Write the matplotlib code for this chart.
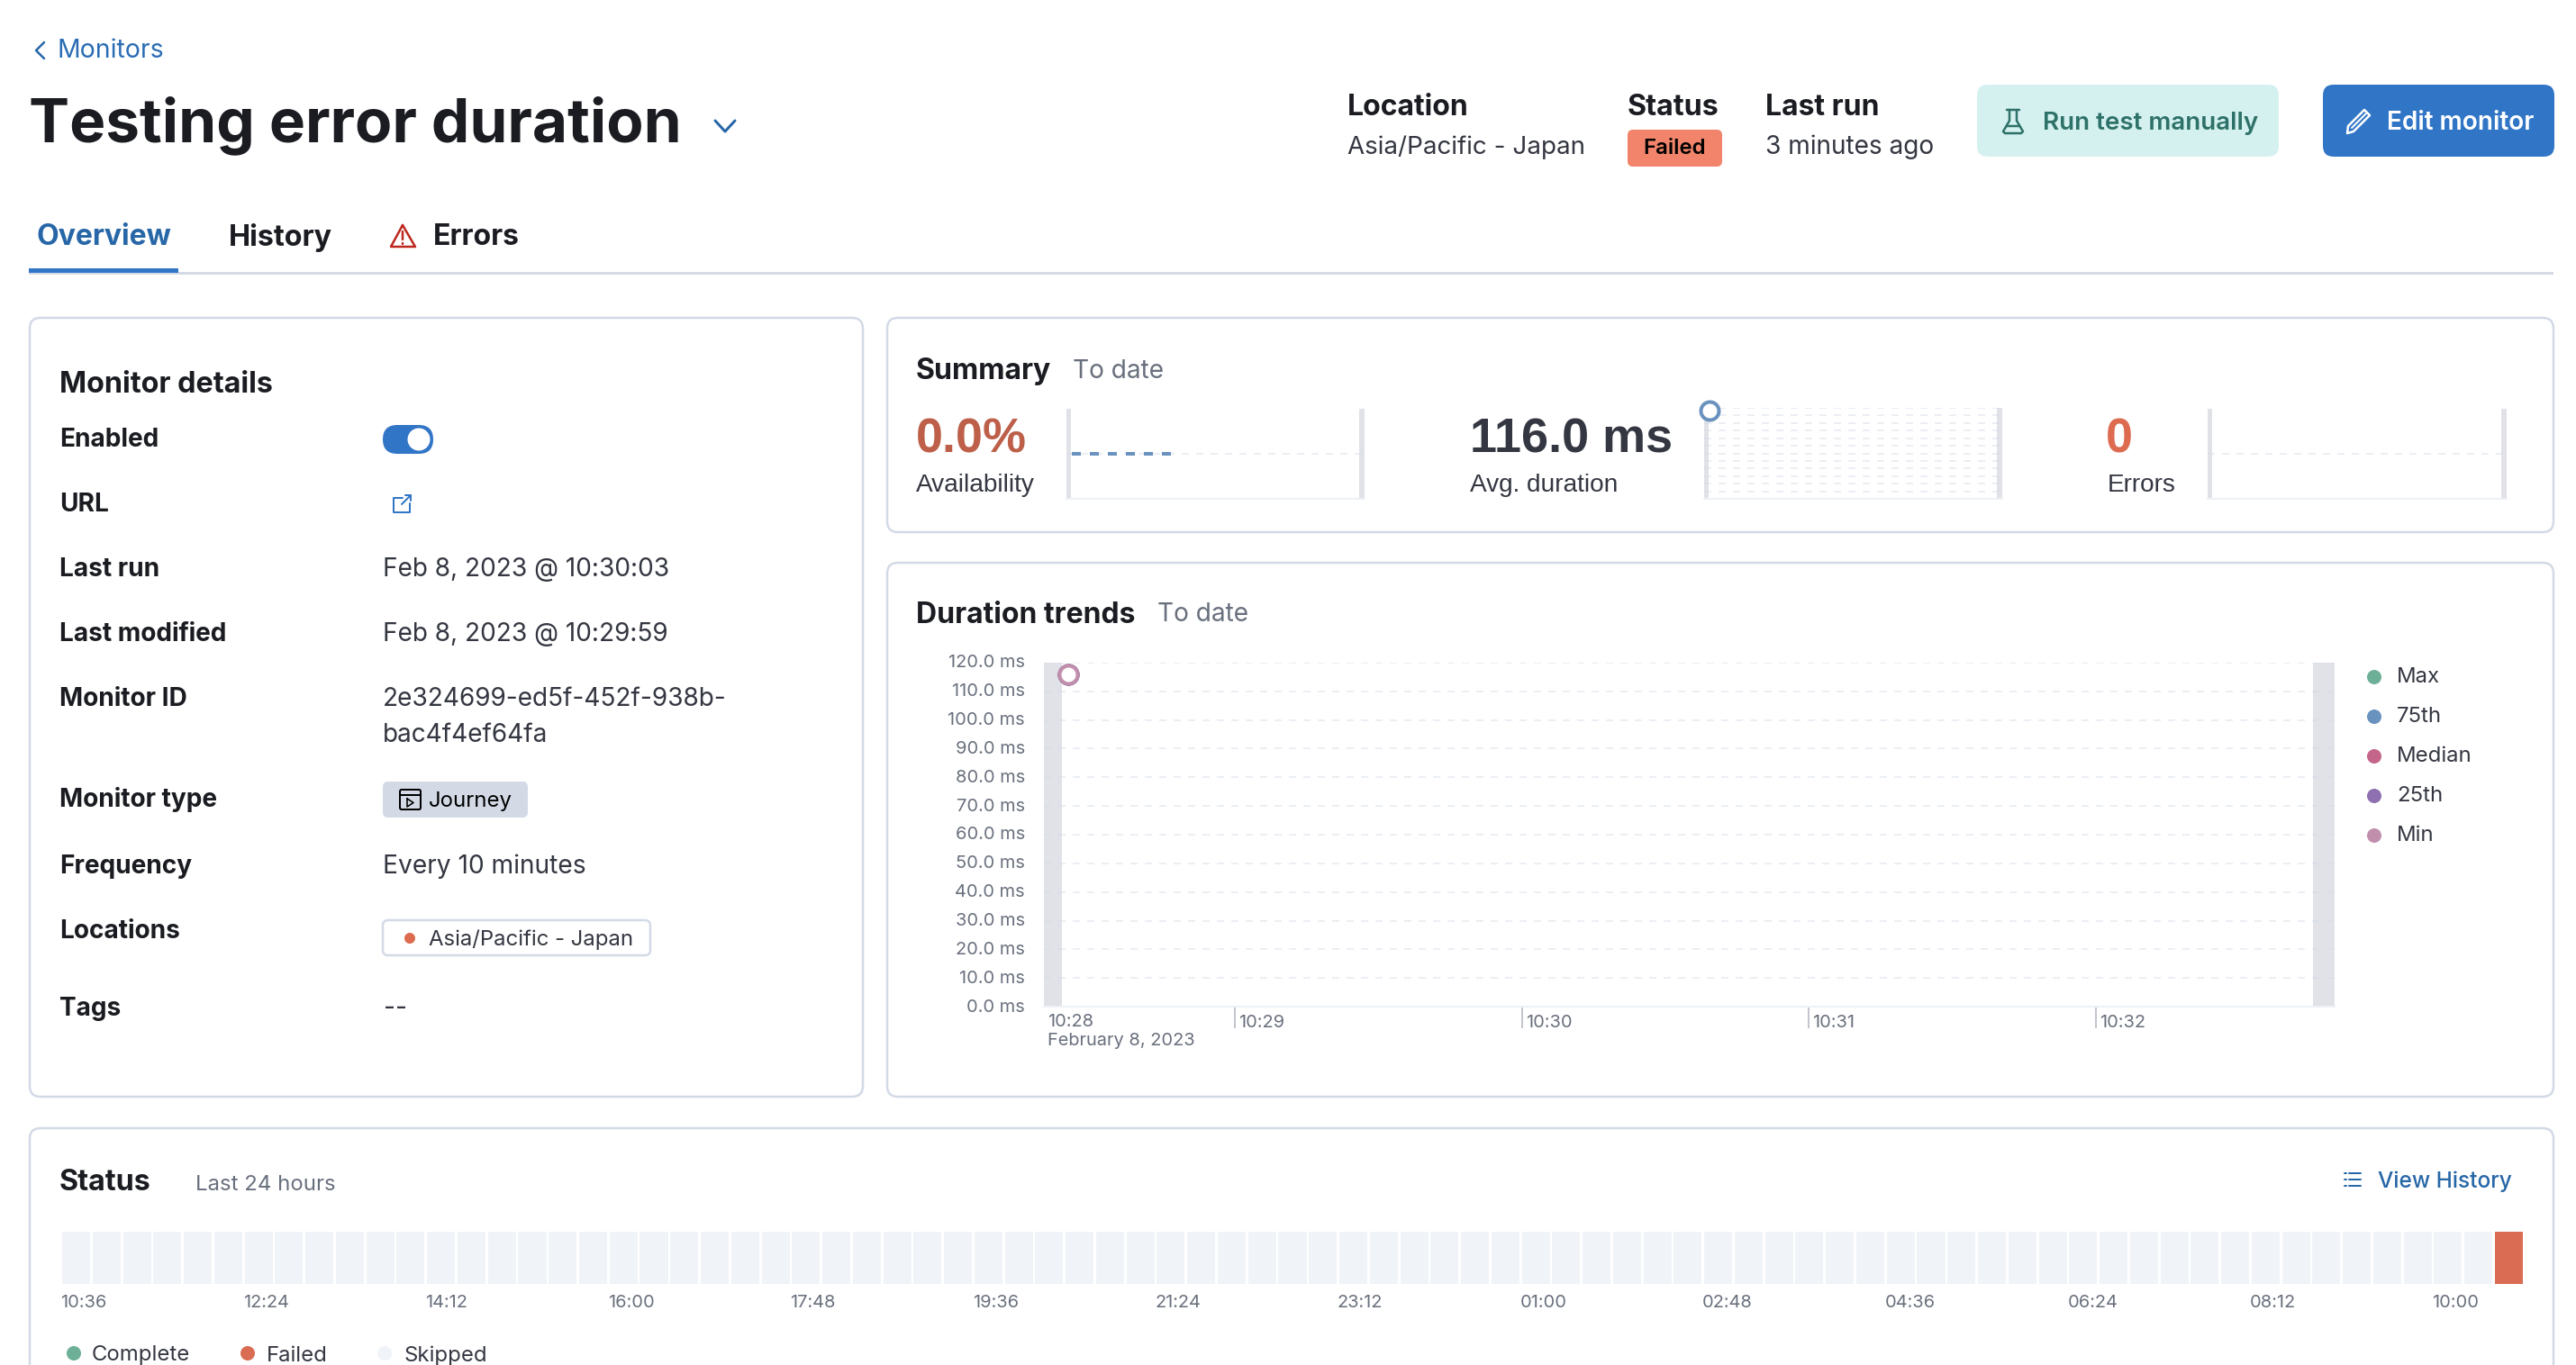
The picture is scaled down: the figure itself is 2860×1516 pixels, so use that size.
import datetime
import matplotlib
matplotlib.use('Agg')
import matplotlib.pyplot as plt
from matplotlib.patches import FancyBboxPatch, Circle, Rectangle
from matplotlib.transforms import ScaledTranslation

plt.rcParams['font.family'] = ['Inter', 'DejaVu Sans']

W, H = 2860, 1516
PT = 0.36  # one image pixel in points at dpi 200

#data
details_labels = ['Enabled', 'URL', 'Last run', 'Last modified', 'Monitor ID',
                  'Monitor type', 'Frequency', 'Locations', 'Tags']
last_run = 'Feb 8, 2023 @ 10:30:03'
last_modified = 'Feb 8, 2023 @ 10:29:59'
monitor_id = ['2e324699-ed5f-452f-938b-', 'bac4f4ef64fa']
frequency = 'Every 10 minutes'

series_names = ['Max', '75th', 'Median', '25th', 'Min']
series_colors = ['#6DB097', '#6A92BF', '#C4658A', '#8E70B0', '#C18FAC']
run_times = [datetime.datetime(2023, 2, 8, 10, 28, 25)]
duration_max = [116.0]
duration_p75 = [116.0]
duration_median = [116.0]
duration_p25 = [116.0]
duration_min = [116.0]
avg_duration = [116.0]

availability_times = [datetime.datetime(2023, 2, 8, 10, 28, 25),
                      datetime.datetime(2023, 2, 8, 10, 30, 0)]
availability = [0.0, 0.0]

duration_ticks = [0, 10, 20, 30, 40, 50, 60, 70, 80, 90, 100, 110, 120]
minute_ticks = [datetime.datetime(2023, 2, 8, 10, m) for m in (29, 30, 31, 32)]
minute_labels = ['10:29', '10:30', '10:31', '10:32']

status_cells = ['Skipped'] * 80 + ['Failed']
status_labels = ['10:36', '12:24', '14:12', '16:00', '17:48', '19:36', '21:24',
                 '23:12', '01:00', '02:48', '04:36', '06:24', '08:12', '10:00']
status_names = ['Complete', 'Failed', 'Skipped']
status_colors = {'Complete': '#6DB097', 'Failed': '#D96C52', 'Skipped': '#F0F3F8'}

#domain shared by the duration chart and the sparklines
t_start = datetime.datetime(2023, 2, 8, 10, 28, 20)
t_left = datetime.datetime(2023, 2, 8, 10, 28, 23, 700000)
t_right = datetime.datetime(2023, 2, 8, 10, 32, 45, 500000)
t_end = datetime.datetime(2023, 2, 8, 10, 32, 50)

BLUE = '#3176C6'
LINK = '#2767A7'
DARK = '#1A1C21'
TEXT = '#343741'
GREY = '#69707D'
BORDER = '#D3DAE6'
BAND = '#E0E2E8'
AXIS = '#EDF0F5'
HELV = ['Liberation Sans', 'DejaVu Sans']

fig = plt.figure(figsize=(W / 200, H / 200), dpi=200, facecolor='white')
bg = fig.add_axes([0, 0, 1, 1], zorder=0)
bg.set_xlim(0, W)
bg.set_ylim(H, 0)
bg.axis('off')


def txt(x, y, s, px, color=TEXT, weight='normal', **kw):
    kw.setdefault('va', 'baseline')
    if kw['va'] == 'baseline':
        y += 1.5
    bg.text(x, y, s, fontsize=px * PT, color=color, fontweight=weight, **kw)


def box(x0, y0, x1, y1, r, face, edge='none', lw=0.0):
    bg.add_patch(FancyBboxPatch((x0, y0), x1 - x0, y1 - y0,
                                boxstyle='round,pad=0,rounding_size=%d' % r,
                                fc=face, ec=edge, lw=lw * PT))


def stroke(xs, ys, color, lw=3):
    bg.plot(xs, ys, color=color, lw=lw * PT, solid_capstyle='round',
            solid_joinstyle='round')


def sub_axes(x0, y0, x1, y1):
    a = fig.add_axes([x0 / W, 1 - y1 / H, (x1 - x0) / W, (y1 - y0) / H], zorder=2)
    a.patch.set_alpha(0)
    for s in ('top', 'left', 'right'):
        a.spines[s].set_visible(False)
    a.spines['bottom'].set_color(AXIS)
    a.spines['bottom'].set_linewidth(2 * PT)
    a.set_xlim(t_start, t_end)
    a.axvspan(t_start, t_left, color=BAND, lw=0)
    a.axvspan(t_right, t_end, color=BAND, lw=0)
    a.set_xticks([])
    a.tick_params(axis='y', length=0)
    return a


def dashed_grid(a):
    a.grid(axis='y', color=BORDER, alpha=0.45, lw=2 * PT, linestyle=(0, (4, 4)))


#header
stroke([49, 40, 49], [47, 56, 65], LINK, 2.5)
txt(64, 63, 'Monitors', 28.5, '#2B6DB5')
txt(32, 156, 'Testing error duration', 67.5, DARK, 'bold')
stroke([794, 805, 816], [134, 146, 134], LINK, 3)

txt(41, 271, 'Overview', 32, LINK, 'bold')
txt(254, 271, 'History', 32.3, DARK, 'bold')
txt(481, 271, 'Errors', 32, DARK, 'bold')
stroke([447, 434, 461, 447], [250, 274, 274, 250], '#BD271E', 2.5)
stroke([447, 447], [257, 266], '#BD271E', 2.5)
stroke([447, 447], [270, 270.5], '#BD271E', 2.5)
bg.add_patch(Rectangle((32, 302), 2803, 2.5, fc=BORDER, lw=0))
bg.add_patch(Rectangle((32, 298), 166, 4.5, fc=BLUE, lw=0))

txt(1496, 126.5, 'Location', 32, DARK, 'bold')
txt(1496, 169.5, 'Asia/Pacific - Japan', 27.8)
txt(1807, 126.5, 'Status', 32.3, DARK, 'bold')
box(1807, 144, 1912, 185, 6, '#F1846A')
txt(1859, 165, 'Failed', 24, '#000000', 'semibold', ha='center', va='center')
txt(1960, 126.5, 'Last run', 32, DARK, 'bold')
txt(1960, 169.5, '3 minutes ago', 28)

box(2195, 94, 2530, 174, 12, '#D4F1F0')
txt(2268, 143, 'Run test manually', 27.8, '#2E7168', 'semibold')
stroke([2231, 2231, 2224, 2226, 2244, 2246, 2239, 2239],
       [122, 134, 146, 148, 148, 146, 134, 122], '#2E7168', 2.5)
stroke([2228, 2242], [122, 122], '#2E7168', 2.5)
stroke([2228, 2242], [140, 140], '#2E7168', 2.5)
box(2579, 94, 2836, 174, 12, BLUE)
txt(2650, 143, 'Edit monitor', 28, 'white', 'semibold')
stroke([2607, 2625, 2631, 2613, 2606, 2607], [140, 122, 128, 146, 148, 140], 'white', 2.5)
stroke([2611, 2627], [142, 126], 'white', 2)

#cards
box(33, 353, 958, 1218, 12, 'white', BORDER, 2.5)
box(985, 353, 2835, 591, 12, 'white', BORDER, 2.5)
box(985, 625, 2835, 1218, 12, 'white', BORDER, 2.5)
box(33, 1253, 2835, 1560, 12, 'white', BORDER, 2.5)

#monitor details
txt(66, 435, 'Monitor details', 32.3, DARK, 'bold')
label_y = [495, 567, 639, 711, 783, 895, 968, 1041, 1127]
for lab, y in zip(details_labels, label_y):
    txt(66, y, lab, 28, DARK, 'bold')
box(425, 472, 481, 504, 16, BLUE)
bg.add_patch(Circle((465, 488), 12.5, fc='white', lw=0))
stroke([447, 437, 437, 455, 455], [553, 553, 569, 569, 559], BLUE, 2)
stroke([446, 456, 456], [560, 550, 556], BLUE, 2)
stroke([450, 456], [550, 550], BLUE, 2)
txt(425, 639, last_run, 28)
txt(425, 711, last_modified, 28)
txt(425, 783, monitor_id[0], 28)
txt(425, 823, monitor_id[1], 28)
box(425, 868, 586, 908, 6, BORDER)
box(444, 877, 467, 899, 2, 'none', '#000000', 2)
stroke([444, 467], [883, 883], '#000000', 2)
stroke([452, 452, 459, 452], [887, 896, 891.5, 887], '#000000', 1.6)
txt(476, 887.5, 'Journey', 24, '#000000', va='center_baseline')
txt(425, 968, frequency, 28.2)
box(425, 1022, 722, 1061, 6, 'white', BORDER, 2.5)
bg.add_patch(Circle((455, 1042), 6, fc='#DD6B50', lw=0))
txt(476, 1041, 'Asia/Pacific - Japan', 24, va='center_baseline')
txt(426, 1127, '--', 28)

#summary
txt(1017, 420, 'Summary', 32, DARK, 'bold')
txt(1191, 418.5, 'To date', 28, GREY)
txt(1017, 501, '0.0%', 54, '#BD5F49', 'bold', family=HELV)
txt(1017, 545, 'Availability', 28, family=HELV)
txt(1632, 501, '116.0 ms', 54, TEXT, 'bold', family=HELV)
txt(1632, 545, 'Avg. duration', 28, family=HELV)
txt(2338, 501, '0', 54, '#DD6B50', 'bold', family=HELV)
txt(2340, 545, 'Errors', 28, family=HELV)

ax_avail = sub_axes(1184, 454, 1515, 554)
ax_avail.set_ylim(-1, 1)
ax_avail.set_yticks([0])
ax_avail.set_yticklabels([])
dashed_grid(ax_avail)
ax_avail.plot(availability_times, availability, color='#6A92BF', lw=4 * PT,
              linestyle=(0, (2.5, 2.5)), dash_capstyle='butt')

ax_dur = sub_axes(1892, 453, 2223, 554)
ax_dur.set_ylim(0, 120)
ax_dur.set_yticks(duration_ticks[1:])
ax_dur.set_yticklabels([])
dashed_grid(ax_dur)
ax_dur.plot(run_times, avg_duration, 'o', color='#6A92BF', mfc='white', ms=20 * PT,
            mew=4 * PT, clip_on=False)

ax_err = sub_axes(2451, 454, 2783, 554)
ax_err.set_ylim(-1, 1)
ax_err.set_yticks([0])
ax_err.set_yticklabels([])
dashed_grid(ax_err)

#duration trends
txt(1017, 690, 'Duration trends', 32, DARK, 'bold')
txt(1285, 689, 'To date', 28, GREY)

ax = sub_axes(1159, 736, 2592, 1118)
ax.set_ylim(0, 120)
ax.set_yticks(duration_ticks[1:])
dashed_grid(ax)
ax.set_yticks(duration_ticks)
ax.set_yticklabels(['%.1f ms' % v for v in duration_ticks], fontsize=20 * PT, color=GREY)
ax.tick_params(axis='y', length=0, pad=21 * PT)
for lab in ax.get_yticklabels():
    lab.set_verticalalignment('center_baseline')
    lab.set_transform(lab.get_transform() + ScaledTranslation(0, 1.5 * PT / 72, fig.dpi_scale_trans))
ax.set_xticks(minute_ticks)
ax.set_xticklabels(minute_labels, fontsize=20 * PT, color=GREY, ha='left')
ax.tick_params(axis='x', length=24 * PT, width=2 * PT, color='#C3C6CE', pad=-15 * PT)
for lab in ax.get_xticklabels():
    lab.set_transform(lab.get_transform() + ScaledTranslation(4 * PT / 72, 0, fig.dpi_scale_trans))
ax.annotate('10:28\nFebruary 8, 2023', xy=(0, 0), xycoords='axes fraction',
            xytext=(4 * PT, -8.5 * PT), textcoords='offset points',
            fontsize=20 * PT, color=GREY, va='top', ha='left', linespacing=1.2)
for vals, name, col in zip([duration_max, duration_p75, duration_median, duration_p25, duration_min],
                           series_names, series_colors):
    ax.plot(run_times, vals, 'o', color=col, mfc='white', ms=20 * PT, mew=4 * PT, clip_on=False, label=name)

legend_y = [752, 796, 840, 884, 928]
for name, col, y in zip(series_names, series_colors, legend_y):
    bg.add_patch(Circle((2636, y), 8, fc=col, lw=0))
    txt(2661, y - 3, name, 24, va='center_baseline')

#status
txt(66, 1320, 'Status', 32.3, DARK, 'bold')
txt(217, 1321, 'Last 24 hours', 24, GREY)
for y in (1303, 1310, 1317):
    stroke([2603, 2605], [y, y], LINK, 2)
    stroke([2608, 2621], [y, y], LINK, 2)
txt(2640, 1317, 'View History', 24.5, LINK, 'medium')

ax_st = fig.add_axes([67 / W, 1 - 1426 / H, (2801 - 67) / W, 58 / H], zorder=2)
ax_st.bar(range(len(status_cells)), 1, width=0.92, color=[status_colors[s] for s in status_cells])
ax_st.set_xlim(-0.46, len(status_cells) - 0.54)
ax_st.set_ylim(0, 1)
ax_st.set_yticks([])
for s in ax_st.spines.values():
    s.set_visible(False)
ax_st.set_xticks([i * 6 - 0.52 for i in range(len(status_labels))])
ax_st.set_xticklabels(status_labels, fontsize=20 * PT, color=GREY, ha='left')
ax_st.tick_params(axis='x', length=0, pad=12 * PT)

status_x = [(82, 102), (275, 296), (427, 448)]
for name, (mx, tx) in zip(status_names, status_x):
    bg.add_patch(Circle((mx, 1503), 8, fc=status_colors[name], lw=0))
    txt(tx, 1503, name, 24, va='center_baseline')

fig.savefig('out.png', dpi=200, facecolor='white')
